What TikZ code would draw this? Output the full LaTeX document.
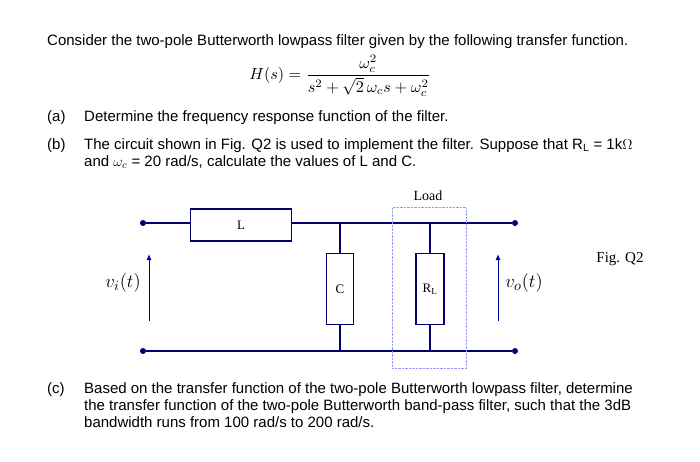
\documentclass[tikz,border=0pt]{standalone}
\usepackage{amsmath}
\usepackage{graphicx}
\usepackage{fontspec}
\usetikzlibrary{arrows.meta}
\setmainfont{Liberation Sans}
\newfontfamily\serif{Liberation Serif}
\begin{document}
\begin{tikzpicture}[x=1pt,y=-1pt,
  txt/.style={anchor=base west,inner sep=0,font=\fontsize{15}{17}\selectfont},
  wire/.style={draw=blue!45!black,line width=1.3pt},
  comp/.style={draw=blue!45!black,line width=1.3pt,fill=white,inner sep=0,font=\serif\fontsize{13}{15}\selectfont},
  dot/.style={circle,fill=blue!45!black,inner sep=0,minimum size=6pt},
  lab/.style={font=\serif\fontsize{15}{17}\selectfont,inner sep=0}]
\useasboundingbox (0,0) rectangle (700,461);
\node[txt] (t0) at (47,45) {Consider the two-pole Butterworth lowpass filter given by the following transfer function.};
\node[inner sep=0] (eq) at (340,76) {\scalebox{1.62}{$H(s) = \dfrac{\omega_c^2}{s^2+\sqrt{2}\,\omega_c s+\omega_c^2}$}};
\node[txt] (a1) at (47,121) {(a)};
\node[txt] (a2) at (84,121) {Determine the frequency response function of the filter.};
\node[txt] (b1) at (47,149) {(b)};
\node[txt] (b2) at (84,149) {The circuit shown in Fig. Q2 is used to implement the filter. Suppose that R\textsubscript{L} = 1k$\Omega$};
\node[txt] (b3) at (84,166) {and $\omega_c$ = 20 rad/s, calculate the values of L and C.};
\node[txt] (c1) at (47,393) {(c)};
\node[txt] (c2) at (84,393) {Based on the transfer function of the two-pole Butterworth lowpass filter, determine};
\node[txt] (c3) at (84,410) {the transfer function of the two-pole Butterworth band-pass filter, such that the 3dB};
\node[txt] (c4) at (84,427) {bandwidth runs from 100 rad/s to 200 rad/s.};
% circuit
\node[dot] (d1) at (143,223) {};
\node[dot] (d2) at (143,351) {};
\node[dot] (d3) at (515,223) {};
\node[dot] (d4) at (515,351) {};
\node[comp,minimum width=101pt,minimum height=32pt] (L) at (241,225) {L};
\node[comp,minimum width=27pt,minimum height=71pt] (C) at (340,289) {C};
\node[comp,minimum width=28pt,minimum height=71pt] (R) at (430,289) {R\textsubscript{L}};
\coordinate (ct) at (340,223); \coordinate (cb) at (340,351);
\coordinate (rt) at (430,223); \coordinate (rb) at (430,351);
\draw[wire] (d1) -- (L.west|-d1);
\draw[wire] (L.east|-d1) -- (d3);
\draw[wire] (d2) -- (d4);
\draw[wire] (ct) -- (C.north); \draw[wire] (C.south) -- (cb);
\draw[wire] (rt) -- (R.north); \draw[wire] (R.south) -- (rb);
\node[draw=blue!40,densely dotted,minimum width=74pt,minimum height=161pt,inner sep=0] (load) at (429,288) {};
\node[lab,font=\serif\fontsize{14}{16}\selectfont] (loadl) at (428,196) {Load};
\coordinate (va1) at (149,321); \coordinate (va2) at (149,254);
\coordinate (vb1) at (498,321); \coordinate (vb2) at (498,254);
\draw[blue!60!black,line width=1pt,-{Latex[length=6pt,width=5pt]}] (va1) -- (va2);
\draw[blue!60!black,line width=1pt,-{Latex[length=6pt,width=5pt]}] (vb1) -- (vb2);
\node[lab] (vi) at (123,283) {\scalebox{1.3}{$v_i(t)$}};
\node[lab] (vo) at (524,283) {\scalebox{1.3}{$v_o(t)$}};
\node[lab] (fig) at (620,259) {Fig. Q2};
\end{tikzpicture}
\end{document}
